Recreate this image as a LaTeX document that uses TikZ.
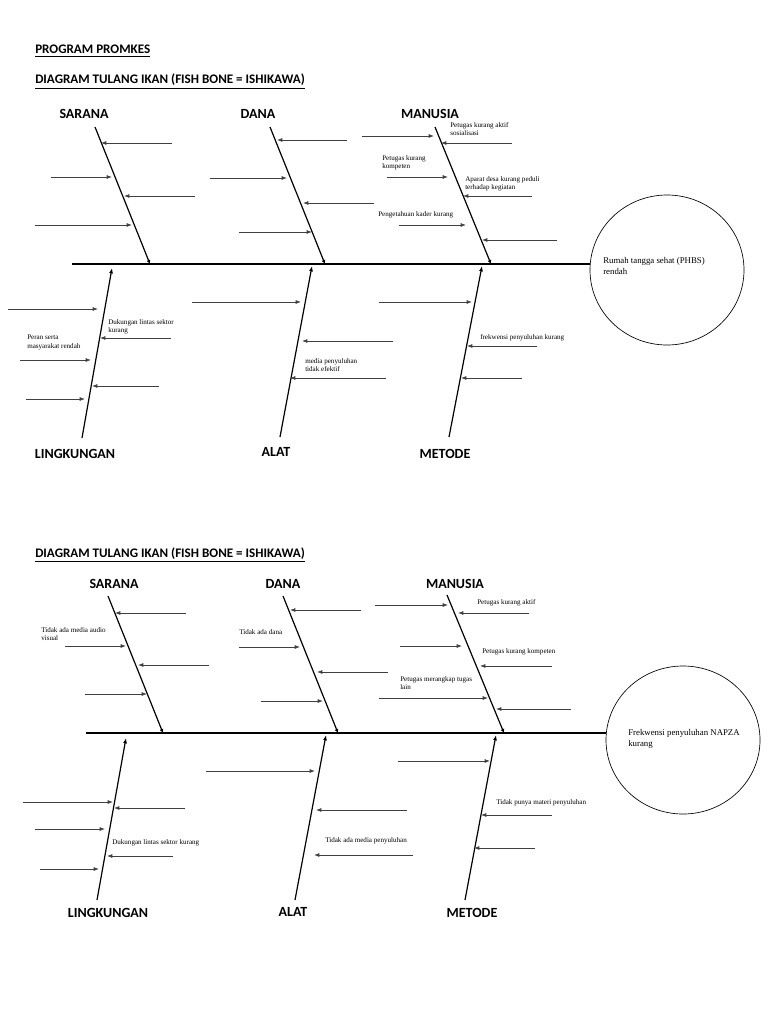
\documentclass[tikz,border=0pt]{standalone}
\usepackage{fontspec}
\setmainfont{Liberation Serif}
\newfontfamily\headfont{Carlito}
\usetikzlibrary{arrows.meta,shapes.geometric}
\tikzset{
  bone/.style={line width=0.9pt},
  spine/.style={line width=1.6pt},
  rib/.style={line width=0.6pt,draw=black!75,-{Latex[length=4pt,width=3pt]}},
  cat/.style={font=\headfont\bfseries\fontsize{10.5}{12}\selectfont,anchor=base},
  ttl/.style={font=\headfont\bfseries\fontsize{9.8}{11}\selectfont,anchor=base west,inner sep=0pt},
  note/.style={font=\fontsize{5.3}{6.3}\selectfont,anchor=north west,inner sep=0pt,align=left},
  effect/.style={draw,ellipse,line width=0.5pt}
}
\begin{document}
\begin{tikzpicture}[x=0.75pt,y=-0.75pt]
\useasboundingbox (0,0) rectangle (768,1024);
\node[ttl] (t0) at (35,54) {\underline{PROGRAM PROMKES}};
\node[ttl] (t1) at (35,84) {\underline{DIAGRAM TULANG IKAN (FISH BONE = ISHIKAWA)}};
\node[ttl] (t2) at (35,557) {\underline{DIAGRAM TULANG IKAN (FISH BONE = ISHIKAWA)}};

% ---------------- Diagram 1
\node[effect,minimum width=154pt*0.75,minimum height=150pt*0.75] (e1) at (667,270) {};
\node[note,font=\fontsize{6.6}{8.4}\selectfont] (e1t) at (603,257) {Rumah tangga sehat (PHBS)\\rendah};
\coordinate (s1l) at (72,264);
\draw[spine] (s1l) -- (s1l -| e1.west);
\coordinate (a1t) at (95,127); \coordinate (a1b) at (150,264);
\coordinate (b1t) at (270,127); \coordinate (b1b) at (325,264);
\coordinate (c1t) at (435,127); \coordinate (c1b) at (491,264);
\coordinate (d1b) at (82,438); \coordinate (d1t) at (112,268);
\coordinate (f1b) at (280,437); \coordinate (f1t) at (312,266);
\coordinate (g1b) at (449,437); \coordinate (g1t) at (482,266);
\draw[bone,-{Latex[length=3pt,width=3pt]}] (a1t) -- (a1b);
\draw[bone,-{Latex[length=3pt,width=3pt]}] (b1t) -- (b1b);
\draw[bone,-{Latex[length=3pt,width=3pt]}] (c1t) -- (c1b);
\draw[bone,-{Latex[length=4pt,width=3pt]}] (d1b) -- (d1t);
\draw[bone,-{Latex[length=4pt,width=3pt]}] (f1b) -- (f1t);
\draw[bone,-{Latex[length=4pt,width=3pt]}] (g1b) -- (g1t);
\node[cat] (l1a) at (84,118) {SARANA};
\node[cat] (l1b) at (258,118) {DANA};
\node[cat] (l1c) at (430,118) {MANUSIA};
\node[cat] (l1d) at (75,458) {LINGKUNGAN};
\node[cat] (l1f) at (276,456) {ALAT};
\node[cat] (l1g) at (445,458) {METODE};
\draw[rib] (172,143) -- (101,143);
\draw[rib] (51,177) -- (112,177);
\draw[rib] (195,196) -- (124,196);
\draw[rib] (35,225) -- (132,225);
\draw[rib] (347,140) -- (277,140);
\draw[rib] (210,178) -- (287,178);
\draw[rib] (374,203) -- (303,203);
\draw[rib] (239,232) -- (312,232);
\draw[rib] (362,136) -- (434,136);
\draw[rib] (512,143) -- (441,143);
\draw[rib] (387,177) -- (448,177);
\draw[rib] (532,196) -- (463,196);
\draw[rib] (399,225) -- (466,225);
\draw[rib] (557,240) -- (482,240);
\draw[rib] (8,309) -- (98,309);
\draw[rib] (171,338) -- (100,338);
\draw[rib] (20,360) -- (91,360);
\draw[rib] (159,386) -- (92,386);
\draw[rib] (26,399) -- (85,399);
\draw[rib] (192,302) -- (301,302);
\draw[rib] (393,341) -- (302,341);
\draw[rib] (386,378) -- (290,378);
\draw[rib] (379,302) -- (472,302);
\draw[rib] (537,346) -- (467,346);
\draw[rib] (522,378) -- (461,378);
\node[note] (n1) at (450,122) {Petugas kurang aktif\\sosialisasi};
\node[note] (n2) at (382,155) {Petugas kurang\\kompeten};
\node[note] (n3) at (465,176) {Aparat desa kurang peduli\\terhadap kegiatan};
\node[note] (n4) at (378,211) {Pengetahuan kader kurang};
\node[note] (n5) at (108,319) {Dukungan lintas sektor\\kurang};
\node[note] (n6) at (27,335) {Peran serta\\masyarakat rendah};
\node[note] (n7) at (305,358) {media penyuluhan\\tidak efektif};
\node[note] (n8) at (480,334) {frekwensi penyuluhan kurang};

% ---------------- Diagram 2
\node[effect,minimum width=154pt*0.75,minimum height=148pt*0.75] (e2) at (683,740) {};
\node[note,font=\fontsize{6.6}{8.4}\selectfont] (e2t) at (628,729) {Frekwensi penyuluhan NAPZA\\kurang};
\coordinate (s2l) at (86,733);
\draw[spine] (s2l) -- (s2l -| e2.west);
\coordinate (a2t) at (108,596); \coordinate (a2b) at (163,733);
\coordinate (b2t) at (283,596); \coordinate (b2b) at (338,733);
\coordinate (c2t) at (447,595); \coordinate (c2b) at (504,733);
\coordinate (d2b) at (97,900); \coordinate (d2t) at (126,738);
\coordinate (f2b) at (295,900); \coordinate (f2t) at (326,735);
\coordinate (g2b) at (465,900); \coordinate (g2t) at (496,735);
\draw[bone,-{Latex[length=3pt,width=3pt]}] (a2t) -- (a2b);
\draw[bone,-{Latex[length=3pt,width=3pt]}] (b2t) -- (b2b);
\draw[bone,-{Latex[length=3pt,width=3pt]}] (c2t) -- (c2b);
\draw[bone,-{Latex[length=4pt,width=3pt]}] (d2b) -- (d2t);
\draw[bone,-{Latex[length=4pt,width=3pt]}] (f2b) -- (f2t);
\draw[bone,-{Latex[length=4pt,width=3pt]}] (g2b) -- (g2t);
\node[cat] (l2a) at (114,588) {SARANA};
\node[cat] (l2b) at (283,588) {DANA};
\node[cat] (l2c) at (455,588) {MANUSIA};
\node[cat] (l2d) at (108,917) {LINGKUNGAN};
\node[cat] (l2f) at (293,916) {ALAT};
\node[cat] (l2g) at (472,917) {METODE};
\draw[rib] (186,613) -- (115,613);
\draw[rib] (65,646) -- (126,646);
\draw[rib] (209,665) -- (138,665);
\draw[rib] (85,694) -- (147,694);
\draw[rib] (361,610) -- (290,610);
\draw[rib] (239,647) -- (300,647);
\draw[rib] (388,672) -- (317,672);
\draw[rib] (261,701) -- (323,701);
\draw[rib] (375,605) -- (448,605);
\draw[rib] (529,613) -- (458,613);
\draw[rib] (400,646) -- (462,646);
\draw[rib] (552,666) -- (480,666);
\draw[rib] (379,698) -- (488,698);
\draw[rib] (571,709) -- (496,709);
\draw[rib] (23,802) -- (113,802);
\draw[rib] (185,808) -- (114,808);
\draw[rib] (35,829) -- (105,829);
\draw[rib] (173,856) -- (107,856);
\draw[rib] (40,869) -- (99,869);
\draw[rib] (206,771) -- (315,771);
\draw[rib] (407,810) -- (316,810);
\draw[rib] (413,855) -- (314,855);
\draw[rib] (398,761) -- (490,761);
\draw[rib] (552,815) -- (481,815);
\draw[rib] (535,848) -- (474,848);
\node[note] (m1) at (41,627) {Tidak ada media audio\\visual};
\node[note] (m2) at (239,629) {Tidak ada dana};
\node[note] (m3) at (477,599) {Petugas kurang aktif};
\node[note] (m4) at (482,648) {Petugas kurang kompeten};
\node[note] (m5) at (400,676) {Petugas merangkap tugas\\lain};
\node[note] (m6) at (112,839) {Dukungan lintas sektor kurang};
\node[note] (m7) at (325,837) {Tidak ada media penyuluhan};
\node[note] (m8) at (496,799) {Tidak punya materi penyuluhan};
\end{tikzpicture}
\end{document}
